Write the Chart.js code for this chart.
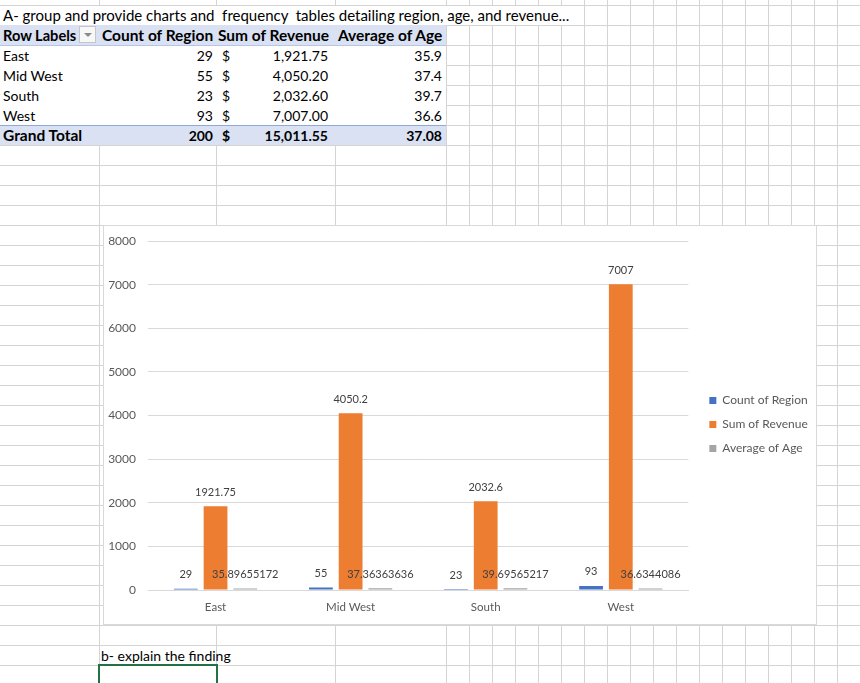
<!DOCTYPE html>
<html>
<head>
<meta charset="utf-8">
<title>Region, age and revenue</title>
<script src="https://cdn.jsdelivr.net/npm/chart.js@4.4.1/dist/chart.umd.min.js"></script>
<style>
  html, body { margin: 0; padding: 0; background: #fff; }
  body { width: 860px; height: 683px; position: relative; overflow: hidden; font-family: Lato, "Open Sans", sans-serif; color: #000; }
  .gl { position: absolute; background: #d4d4d4; }
  .cover { position: absolute; background: #fff; }
  .cell { position: absolute; height: 20px; line-height: 21px; font-size: 14px; white-space: nowrap; }
  .title { font-size: 15px; }
  .head { font-size: 15.5px; }
  .r { text-align: right; }
  .b { font-weight: bold; }
  .band { position: absolute; background: #d9e1f2; }
  .dd { position: absolute; left: 79px; top: 26px; width: 17px; height: 17px; box-sizing: border-box; border: 1px solid #c6c6c6; background: #f7f7f7; }
  .dd:after { content: ""; position: absolute; left: 4px; top: 6px; border-left: 4px solid transparent; border-right: 4px solid transparent; border-top: 4px solid #8a8a8a; }
  #chartBox { position: absolute; left: 103px; top: 225px; width: 714px; height: 400px; box-sizing: border-box; border: 1px solid #d9d9d9; background: #fff; }
  #chartBox canvas { display: block; }
  #sel { position: absolute; left: 98px; top: 664px; width: 120px; height: 30px; box-sizing: border-box; border: 2px solid #217346; }
</style>
</head>
<body>
<div id="sheet"></div>
<div id="chartBox"><canvas id="chart" width="712" height="398"></canvas></div>
<div id="sel"></div>
<script>
// pivot table values
const regions = ['East', 'Mid West', 'South', 'West'];
const countOfRegion = [29, 55, 23, 93];
const sumOfRevenue = [1921.75, 4050.2, 2032.6, 7007];
const averageOfAge = [35.89655172, 37.36363636, 39.69565217, 36.6344086];
const grandTotal = [200, 15011.55, 37.08];
const seriesNames = ['Count of Region', 'Sum of Revenue', 'Average of Age'];
const yMax = 8000;
const yStep = 1000;

const sheet = document.getElementById('sheet');

function box(cls, x, y, w, h, text) {
    const d = document.createElement('div');
    d.className = cls;
    d.style.left = x + 'px';
    d.style.top = y + 'px';
    if (w != null) d.style.width = w + 'px';
    if (h != null) d.style.height = h + 'px';
    if (text != null) d.textContent = text;
    sheet.appendChild(d);
    return d;
}

// worksheet gridlines
const colLines = [99, 216, 335, 446];
for (let x = 469; x < 860; x += 23) colLines.push(x);
colLines.forEach((x) => box('gl', x, 0, 1, 683));
for (let y = 5; y < 683; y += 20) box('gl', 0, y, 860, 1);

// title overflows row 1, pivot table hides its gridlines
box('cover', 0, 6, 583, 19);
box('cover', 0, 25, 446, 120);

box('band', 0, 25, 446, 20);
box('band', 0, 125, 446, 20);
box('band', 0, 45, 446, 1).style.background = '#b4c6e7';
box('band', 0, 125, 446, 1).style.background = '#8ea9db';

box('cell title', 3, 5, null, 20, 'A- group and provide charts and\u00a0 frequency\u00a0 tables detailing region, age, and revenue...');

box('cell b', 3, 25, null, 20, 'Row Labels').style.fontSize = '14.6px';
box('dd', 79, 26);
box('cell b head', 102, 25, null, 20, seriesNames[0]);
box('cell b head', 218, 25, null, 20, seriesNames[1]);
box('cell b head', 338, 25, null, 20, seriesNames[2]);

const money = (v) => v.toLocaleString('en-US', { minimumFractionDigits: 2, maximumFractionDigits: 2 });

function tableRow(y, label, count, revenue, age, cls) {
    box('cell ' + cls + (cls ? ' head' : ''), 3, y, null, 20, label);
    box('cell r ' + cls, 99, y, 114, 20, String(count));
    box('cell ' + cls, 222, y, null, 20, '$');
    box('cell r ' + cls, 216, y, 112, 20, money(revenue));
    box('cell r ' + cls, 335, y, 107, 20, age);
}

regions.forEach((r, i) => {
    tableRow(45 + i * 20, r, countOfRegion[i], sumOfRevenue[i], averageOfAge[i].toFixed(1), '');
});
tableRow(125, 'Grand Total', grandTotal[0], grandTotal[1], grandTotal[2].toFixed(2), 'b');

box('cell', 101, 645, null, 20, 'b- explain the finding');

// value labels above each bar, like Excel data labels
const barValues = {
    id: 'barValues',
    afterDatasetsDraw(chart) {
        const ctx = chart.ctx;
        ctx.save();
        ctx.font = '11px Lato';
        ctx.fillStyle = '#404040';
        ctx.textAlign = 'center';
        ctx.textBaseline = 'middle';
        chart.data.datasets.forEach((ds, i) => {
            chart.getDatasetMeta(i).data.forEach((bar, j) => {
                ctx.fillText(String(ds.data[j]), bar.x, bar.y - 14);
            });
        });
        ctx.restore();
    }
};

Chart.defaults.font.family = 'Lato';

new Chart(document.getElementById('chart'), {
    type: 'bar',
    data: {
        labels: regions,
        datasets: [
            { label: seriesNames[0], data: countOfRegion, backgroundColor: '#4472c4' },
            { label: seriesNames[1], data: sumOfRevenue, backgroundColor: '#ed7d31' },
            { label: seriesNames[2], data: averageOfAge, backgroundColor: '#a5a5a5' },
        ],
    },
    options: {
        responsive: false,
        animation: false,
        barPercentage: 0.8,
        categoryPercentage: 0.66,
        layout: { padding: { top: 15, right: 0, bottom: 10, left: 0 } },
        plugins: {
            tooltip: { enabled: false },
            legend: {
                position: 'right',
                align: 'start',
                // empty title only pushes the entries down to where Excel puts them
                title: { display: true, text: '', font: { size: 12 }, padding: { top: 127, bottom: 0 } },
                labels: {
                    boxWidth: 7,
                    boxHeight: 7,
                    padding: 12,
                    color: '#595959',
                    font: { size: 12 },
                },
            },
        },
        scales: {
            x: {
                grid: { display: false, drawTicks: false },
                border: { color: '#d9d9d9' },
                ticks: { color: '#595959', font: { size: 11.5 }, padding: 10 },
                afterFit(s) { s.height = 24; },
            },
            y: {
                min: 0,
                max: yMax,
                ticks: { stepSize: yStep, color: '#595959', font: { size: 12 }, padding: 12, callback: (v) => String(v) },
                grid: { color: '#d9d9d9', drawTicks: false },
                border: { display: false },
                afterFit(s) {
                    s.width = 44;
                    s.paddingTop = 0;
                    s.paddingBottom = 0;
                },
            },
            gap: {
                position: 'right',
                grid: { display: false, drawTicks: false },
                border: { display: false },
                ticks: { display: false },
                afterFit(s) { s.width = 9; },
            },
        },
    },
    plugins: [barValues],
});
</script>
</body>
</html>
